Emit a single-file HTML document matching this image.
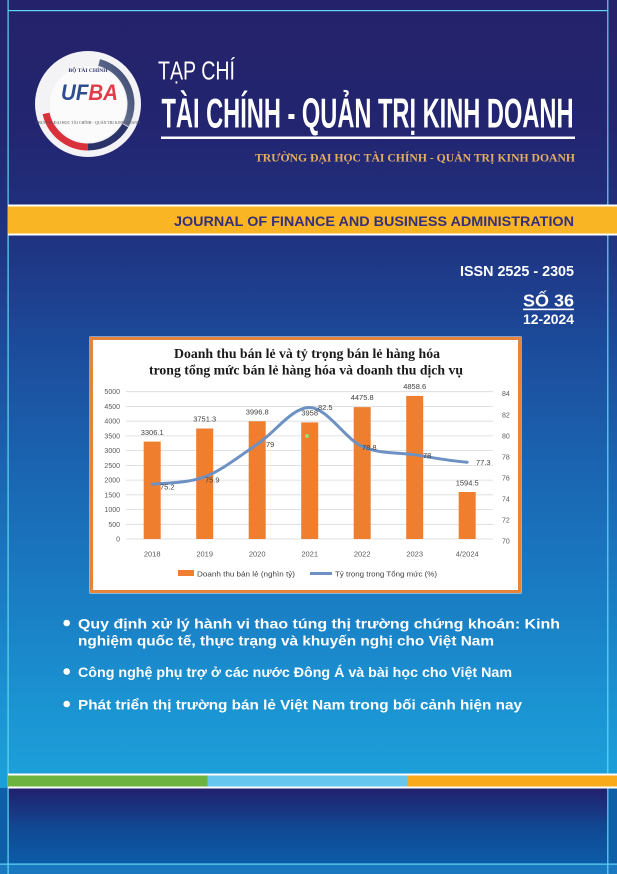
<!DOCTYPE html>
<html><head><meta charset="utf-8"><style>html,body{margin:0;padding:0;background:#1c3f8c}svg{display:block}</style></head>
<body>
<svg width="617" height="874" viewBox="0 0 617 874" xmlns="http://www.w3.org/2000/svg">
<defs>
<linearGradient id="bg" x1="0" y1="0" x2="0" y2="1">
<stop offset="0" stop-color="#24226a"/>
<stop offset="0.15" stop-color="#232570"/>
<stop offset="0.28" stop-color="#1f3482"/>
<stop offset="0.4" stop-color="#1c4c9c"/>
<stop offset="0.55" stop-color="#1a67b3"/>
<stop offset="0.7" stop-color="#1a80c6"/>
<stop offset="0.8" stop-color="#1b92d1"/>
<stop offset="0.88" stop-color="#1c9ed9"/>
<stop offset="1" stop-color="#1c9ed9"/>
</linearGradient>
<linearGradient id="navy" x1="0" y1="0" x2="0" y2="1">
<stop offset="0" stop-color="#221f6c"/>
<stop offset="0.55" stop-color="#104a94"/>
<stop offset="1" stop-color="#0c5ba8"/>
</linearGradient>
<linearGradient id="ringg" x1="0" y1="0" x2="1" y2="1">
<stop offset="0" stop-color="#c9ced9"/>
<stop offset="1" stop-color="#34426c"/>
</linearGradient>
</defs>

<rect x="0" y="0" width="617" height="874" fill="url(#bg)"/>

<!-- bottom navy band -->
<rect x="0" y="788" width="617" height="76" fill="#0f5ea8"/>
<rect x="8" y="788" width="600" height="76" fill="url(#navy)"/>
<rect x="0" y="864" width="617" height="10" fill="#1a78c0"/>

<!-- frame lines -->
<rect x="7.5" y="0" width="1.2" height="874" fill="#5fd8f2"/>
<rect x="607.2" y="0" width="1.2" height="874" fill="#5fd8f2"/>
<rect x="8" y="10" width="600" height="1.2" fill="#5fd8f2"/>
<rect x="0" y="863.5" width="617" height="1.2" fill="#5fd8f2"/>

<!-- logo -->
<circle cx="88" cy="104" r="53" fill="#f3f3f6"/>
<circle cx="88" cy="104" r="43" fill="none" stroke="url(#ringg)" stroke-width="7" stroke-dasharray="78 200" transform="rotate(-75 88 104)"/>
<circle cx="88" cy="104" r="43" fill="none" stroke="#2b3468" stroke-width="7" stroke-dasharray="45 300" transform="rotate(30 88 104)"/>
<circle cx="88" cy="104" r="43" fill="none" stroke="#d9303c" stroke-width="7" stroke-dasharray="58 300" transform="rotate(90 88 104)"/>
<circle cx="88" cy="104" r="38" fill="#fbfbfc"/>
<text x="88" y="72" font-family="Liberation Serif, serif" font-weight="bold" font-size="5.5" fill="#2b3468" text-anchor="middle">BỘ TÀI CHÍNH</text>
<text x="61" y="100" font-family="Liberation Sans, sans-serif" font-weight="bold" font-style="italic" font-size="22" textLength="57" lengthAdjust="spacingAndGlyphs"><tspan fill="#2f4c8e">UF</tspan><tspan fill="#e23b4a">BA</tspan></text>
<text x="88" y="124" font-family="Liberation Serif, serif" font-size="4" fill="#555" text-anchor="middle">TRƯỜNG ĐẠI HỌC TÀI CHÍNH - QUẢN TRỊ KINH DOANH</text>

<!-- header -->
<text x="158" y="79.3" font-family="Liberation Sans, sans-serif" font-size="26" fill="#ffffff" textLength="77" lengthAdjust="spacingAndGlyphs">TẠP CHÍ</text>
<text x="161.5" y="127.3" font-family="Liberation Sans Narrow, Liberation Sans, sans-serif" font-weight="bold" font-size="42" fill="#ffffff" textLength="412" lengthAdjust="spacingAndGlyphs">TÀI CHÍNH - QUẢN TRỊ KINH DOANH</text>
<rect x="161" y="136.5" width="414" height="2.5" fill="#ffffff"/>
<text x="255" y="161.7" font-family="Liberation Serif, serif" font-weight="bold" font-size="12" fill="#e3ae63" textLength="320" lengthAdjust="spacingAndGlyphs">TRƯỜNG ĐẠI HỌC TÀI CHÍNH - QUẢN TRỊ KINH DOANH</text>

<!-- yellow bar -->
<rect x="8" y="204.5" width="609" height="31" fill="#ffffff"/>
<rect x="8" y="206.5" width="609" height="27" fill="#f9b523"/>
<text x="174" y="226" font-family="Liberation Sans, sans-serif" font-weight="bold" font-size="14" fill="#34307a" textLength="400" lengthAdjust="spacingAndGlyphs">JOURNAL OF FINANCE AND BUSINESS ADMINISTRATION</text>

<!-- ISSN -->
<text x="460" y="276" font-family="Liberation Sans, sans-serif" font-weight="bold" font-size="15" fill="#ffffff" textLength="114" lengthAdjust="spacingAndGlyphs">ISSN 2525 - 2305</text>
<text x="523" y="306.7" font-family="Liberation Sans, sans-serif" font-weight="bold" font-size="17.5" fill="#ffffff" textLength="51" lengthAdjust="spacingAndGlyphs">SỐ 36</text>
<rect x="523" y="308.6" width="51" height="1.6" fill="#ffffff"/>
<text x="523" y="324" font-family="Liberation Sans, sans-serif" font-weight="bold" font-size="13.5" fill="#ffffff" textLength="51" lengthAdjust="spacingAndGlyphs">12-2024</text>

<!-- chart box -->
<rect x="89.5" y="336.5" width="432" height="257" fill="#f4f6fa"/>
<rect x="91.5" y="338.5" width="428" height="253" fill="#ffffff" stroke="#e5853b" stroke-width="3"/>
<g font-family="Liberation Serif, serif" font-weight="bold" font-size="14" fill="#1a1a1a" text-anchor="middle">
<text x="307" y="358" textLength="266" lengthAdjust="spacingAndGlyphs">Doanh thu bán lẻ và tỷ trọng bán lẻ hàng hóa</text>
<text x="306" y="374.5" textLength="314" lengthAdjust="spacingAndGlyphs">trong tổng mức bán lẻ hàng hóa và doanh thu dịch vụ</text>
</g>
<!-- gridlines -->
<g stroke="#d9d9d9" stroke-width="0.8">
<line x1="126" x2="493" y1="391.7" y2="391.7"/>
<line x1="126" x2="493" y1="406.4" y2="406.4"/>
<line x1="126" x2="493" y1="421.2" y2="421.2"/>
<line x1="126" x2="493" y1="435.9" y2="435.9"/>
<line x1="126" x2="493" y1="450.6" y2="450.6"/>
<line x1="126" x2="493" y1="465.4" y2="465.4"/>
<line x1="126" x2="493" y1="480.1" y2="480.1"/>
<line x1="126" x2="493" y1="494.8" y2="494.8"/>
<line x1="126" x2="493" y1="509.5" y2="509.5"/>
<line x1="126" x2="493" y1="524.3" y2="524.3"/>
<line x1="126" x2="493" y1="539" y2="539"/>
</g>
<g font-family="Liberation Sans, sans-serif" font-size="7" fill="#595959" text-anchor="end">
<text x="120" y="394.2">5000</text>
<text x="120" y="408.9">4500</text>
<text x="120" y="423.7">4000</text>
<text x="120" y="438.4">3500</text>
<text x="120" y="453.1">3000</text>
<text x="120" y="467.9">2500</text>
<text x="120" y="482.6">2000</text>
<text x="120" y="497.3">1500</text>
<text x="120" y="512">1000</text>
<text x="120" y="526.8">500</text>
<text x="120" y="541.5">0</text>
</g>
<g font-family="Liberation Sans, sans-serif" font-size="7" fill="#595959">
<text x="502" y="396.2">84</text>
<text x="502" y="417.3">82</text>
<text x="502" y="438.3">80</text>
<text x="502" y="459.4">78</text>
<text x="502" y="480.4">76</text>
<text x="502" y="501.5">74</text>
<text x="502" y="522.5">72</text>
<text x="502" y="543.6">70</text>
</g>
<!-- bars -->
<g fill="#ef7f2f">
<rect x="143.7" y="441.6" width="17" height="97.4"/>
<rect x="196.2" y="428.5" width="17" height="110.5"/>
<rect x="248.7" y="421.3" width="17" height="117.7"/>
<rect x="301.2" y="422.4" width="17" height="116.6"/>
<rect x="353.7" y="407.1" width="17" height="131.9"/>
<rect x="406.2" y="395.9" width="17" height="143.1"/>
<rect x="458.7" y="492" width="17" height="47"/>
</g>
<circle cx="307" cy="436" r="2" fill="#8fe36c"/>
<!-- line -->
<path d="M152.2,484.3 C160.95,483.07 187.2,483.57 204.7,476.9 C222.2,470.23 239.7,455.87 257.2,444.3 C274.7,432.73 292.2,407.15 309.7,407.5 C327.2,407.85 344.7,438.52 362.2,446.4 C379.7,454.28 397.2,452.17 414.7,454.8 C432.2,457.43 449.7,460.97 467.2,462.2" fill="none" stroke="#6d91c2" stroke-width="3" stroke-linecap="round"/>
<!-- labels -->
<g font-family="Liberation Sans, sans-serif" font-size="7.5" fill="#404040" text-anchor="middle">
<text x="152.2" y="435">3306.1</text>
<text x="204.7" y="421.5">3751.3</text>
<text x="257.2" y="414.3">3996.8</text>
<text x="309.7" y="415.4">3958</text>
<text x="362.2" y="400.1">4475.8</text>
<text x="414.7" y="388.9">4858.6</text>
<text x="467.2" y="485.5">1594.5</text>
</g>
<g font-family="Liberation Sans, sans-serif" font-size="7.5" fill="#404040">
<text x="160" y="489.5">75.2</text>
<text x="205" y="482.5">75.9</text>
<text x="266" y="447">79</text>
<text x="318" y="410">82.5</text>
<text x="362" y="450">78.8</text>
<text x="423" y="458">78</text>
<text x="476" y="465">77.3</text>
</g>
<g font-family="Liberation Sans, sans-serif" font-size="7.5" fill="#595959" text-anchor="middle">
<text x="152.2" y="556.5">2018</text>
<text x="204.7" y="556.5">2019</text>
<text x="257.2" y="556.5">2020</text>
<text x="309.7" y="556.5">2021</text>
<text x="362.2" y="556.5">2022</text>
<text x="414.7" y="556.5">2023</text>
<text x="467.2" y="556.5">4/2024</text>
</g>
<!-- legend -->
<rect x="178" y="570" width="16" height="6" fill="#ef7f2f"/>
<text x="197" y="576.5" font-family="Liberation Sans, sans-serif" font-size="7.5" fill="#404040" textLength="98" lengthAdjust="spacingAndGlyphs">Doanh thu bán lẻ (nghìn tỷ)</text>
<line x1="310" x2="332" y1="573.5" y2="573.5" stroke="#6d91c2" stroke-width="3"/>
<text x="335" y="576.5" font-family="Liberation Sans, sans-serif" font-size="7.5" fill="#404040" textLength="102" lengthAdjust="spacingAndGlyphs">Tỷ trọng trong Tổng mức (%)</text>

<!-- bullets -->
<g fill="#ffffff">
<circle cx="66.7" cy="623" r="3.3"/>
<circle cx="66.7" cy="671.5" r="3.3"/>
<circle cx="66.7" cy="704" r="3.3"/>
</g>
<g font-family="Liberation Sans, sans-serif" font-weight="bold" font-size="14" fill="#ffffff">
<text x="78" y="628.5" textLength="482" lengthAdjust="spacingAndGlyphs">Quy định xử lý hành vi thao túng thị trường chứng khoán: Kinh</text>
<text x="78" y="645.5" textLength="416" lengthAdjust="spacingAndGlyphs">nghiệm quốc tế, thực trạng và khuyến nghị cho Việt Nam</text>
<text x="78" y="677" textLength="434" lengthAdjust="spacingAndGlyphs">Công nghệ phụ trợ ở các nước Đông Á và bài học cho Việt Nam</text>
<text x="78" y="709.5" textLength="444" lengthAdjust="spacingAndGlyphs">Phát triển thị trường bán lẻ Việt Nam trong bối cảnh hiện nay</text>
</g>

<!-- color stripe -->
<rect x="8" y="773.5" width="609" height="15" fill="#ffffff"/>
<rect x="8" y="775.5" width="199.5" height="11" fill="#6cb33f"/>
<rect x="207.5" y="775.5" width="200" height="11" fill="#67c6ee"/>
<rect x="407.5" y="775.5" width="209.5" height="11" fill="#f8aa1b"/>
</svg>
</body></html>
